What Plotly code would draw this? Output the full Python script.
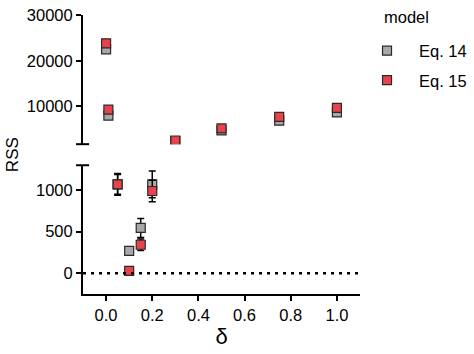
import plotly.graph_objects as go

delta = [0.0, 0.01, 0.05, 0.1, 0.15, 0.2, 0.3, 0.5, 0.75, 1.0]
rss_eq14 = [22500, 8000, 1070, 270, 545, 1070, 2450, 4750, 6900, 8700]
err_eq14 = [None, None, 120, 30, 115, 160, None, None, None, None]
rss_eq15 = [23800, 9300, 1070, 28, 343, 990, 2550, 5200, 7700, 9700]
err_eq15 = [None, None, 130, 10, 70, 130, None, None, None, None]

series = [
    ("Eq. 14", rss_eq14, err_eq14, "#a8a8a8"),
    ("Eq. 15", rss_eq15, err_eq15, "#e8434b"),
]

BREAK = 1500  # values above go on the upper panel
FONT = "Liberation Sans, Arial, sans-serif"
FS = 16.5
fig = go.Figure()

for yax, upper in (("y", False), ("y2", True)):
    for name, vals, errs, col in series:
        idx = [i for i, v in enumerate(vals) if (v >= BREAK) == upper]
        fig.add_trace(go.Scatter(
            x=[delta[i] for i in idx], y=[vals[i] for i in idx],
            mode="markers", name=name, yaxis=yax,
            showlegend=upper, legendgroup=name,
            marker=dict(symbol="square", size=9, color=col,
                        line=dict(color="#2a2a2a", width=1.2)),
            error_y=dict(type="data",
                         array=[errs[i] if errs[i] is not None else float("nan") for i in idx],
                         visible=True, color="black", thickness=1.5, width=3.5),
        ))

# dotted zero line on lower panel
fig.add_shape(type="line", xref="x domain", yref="y", x0=0, x1=1, y0=0, y1=0,
              line=dict(color="black", width=2.5, dash="3px,5px"))

# break caps
fig.add_shape(type="line", xref="paper", yref="y2 domain", x0=-0.025, x1=0.022, y0=0, y1=0,
              line=dict(color="black", width=2))
fig.add_shape(type="line", xref="paper", yref="y domain", x0=-0.025, x1=0.022, y0=1, y1=1,
              line=dict(color="black", width=2))

axis_common = dict(showgrid=False, zeroline=False, showline=True, linecolor="black",
                   linewidth=2, ticks="outside", tickwidth=2, ticklen=5, tickcolor="black",
                   tickfont=dict(family=FONT, size=FS, color="black"))

fig.update_layout(
    width=474, height=354,
    margin=dict(l=83, r=114, t=15, b=60, autoexpand=False),
    plot_bgcolor="white", paper_bgcolor="white",
    xaxis=dict(range=[-0.1, 1.1], tickvals=[0, 0.2, 0.4, 0.6, 0.8, 1.0],
               ticktext=["0.0", "0.2", "0.4", "0.6", "0.8", "1.0"],
               title=dict(text="δ", font=dict(family=FONT, size=22, color="black"), standoff=6),
               anchor="y", **axis_common),
    yaxis=dict(domain=[0, 0.4615], range=[-250, 1300], tickvals=[0, 500, 1000],
               ticktext=["0", "500", "1000"], anchor="x", **axis_common),
    yaxis2=dict(domain=[0.537, 1], range=[1750, 30000], tickvals=[10000, 20000, 30000],
                ticktext=["10000", "20000", "30000"], anchor="x", **axis_common),
    legend=dict(x=0.982, y=0.934, xanchor="left", yanchor="top",
                font=dict(family=FONT, size=FS, color="black"),
                itemsizing="trace", itemwidth=54, tracegroupgap=5,
                bgcolor="rgba(0,0,0,0)"),
    annotations=[
        dict(text="RSS", xref="paper", yref="paper", x=-0.254, y=0.5,
             textangle=-90, showarrow=False, xanchor="center", yanchor="middle",
             font=dict(family=FONT, size=17, color="black")),
        dict(text="model", xref="paper", yref="paper", x=1.08, y=0.994,
             xanchor="left", yanchor="middle", showarrow=False,
             font=dict(family=FONT, size=FS, color="black")),
    ],
)

fig.write_html("out.html")
